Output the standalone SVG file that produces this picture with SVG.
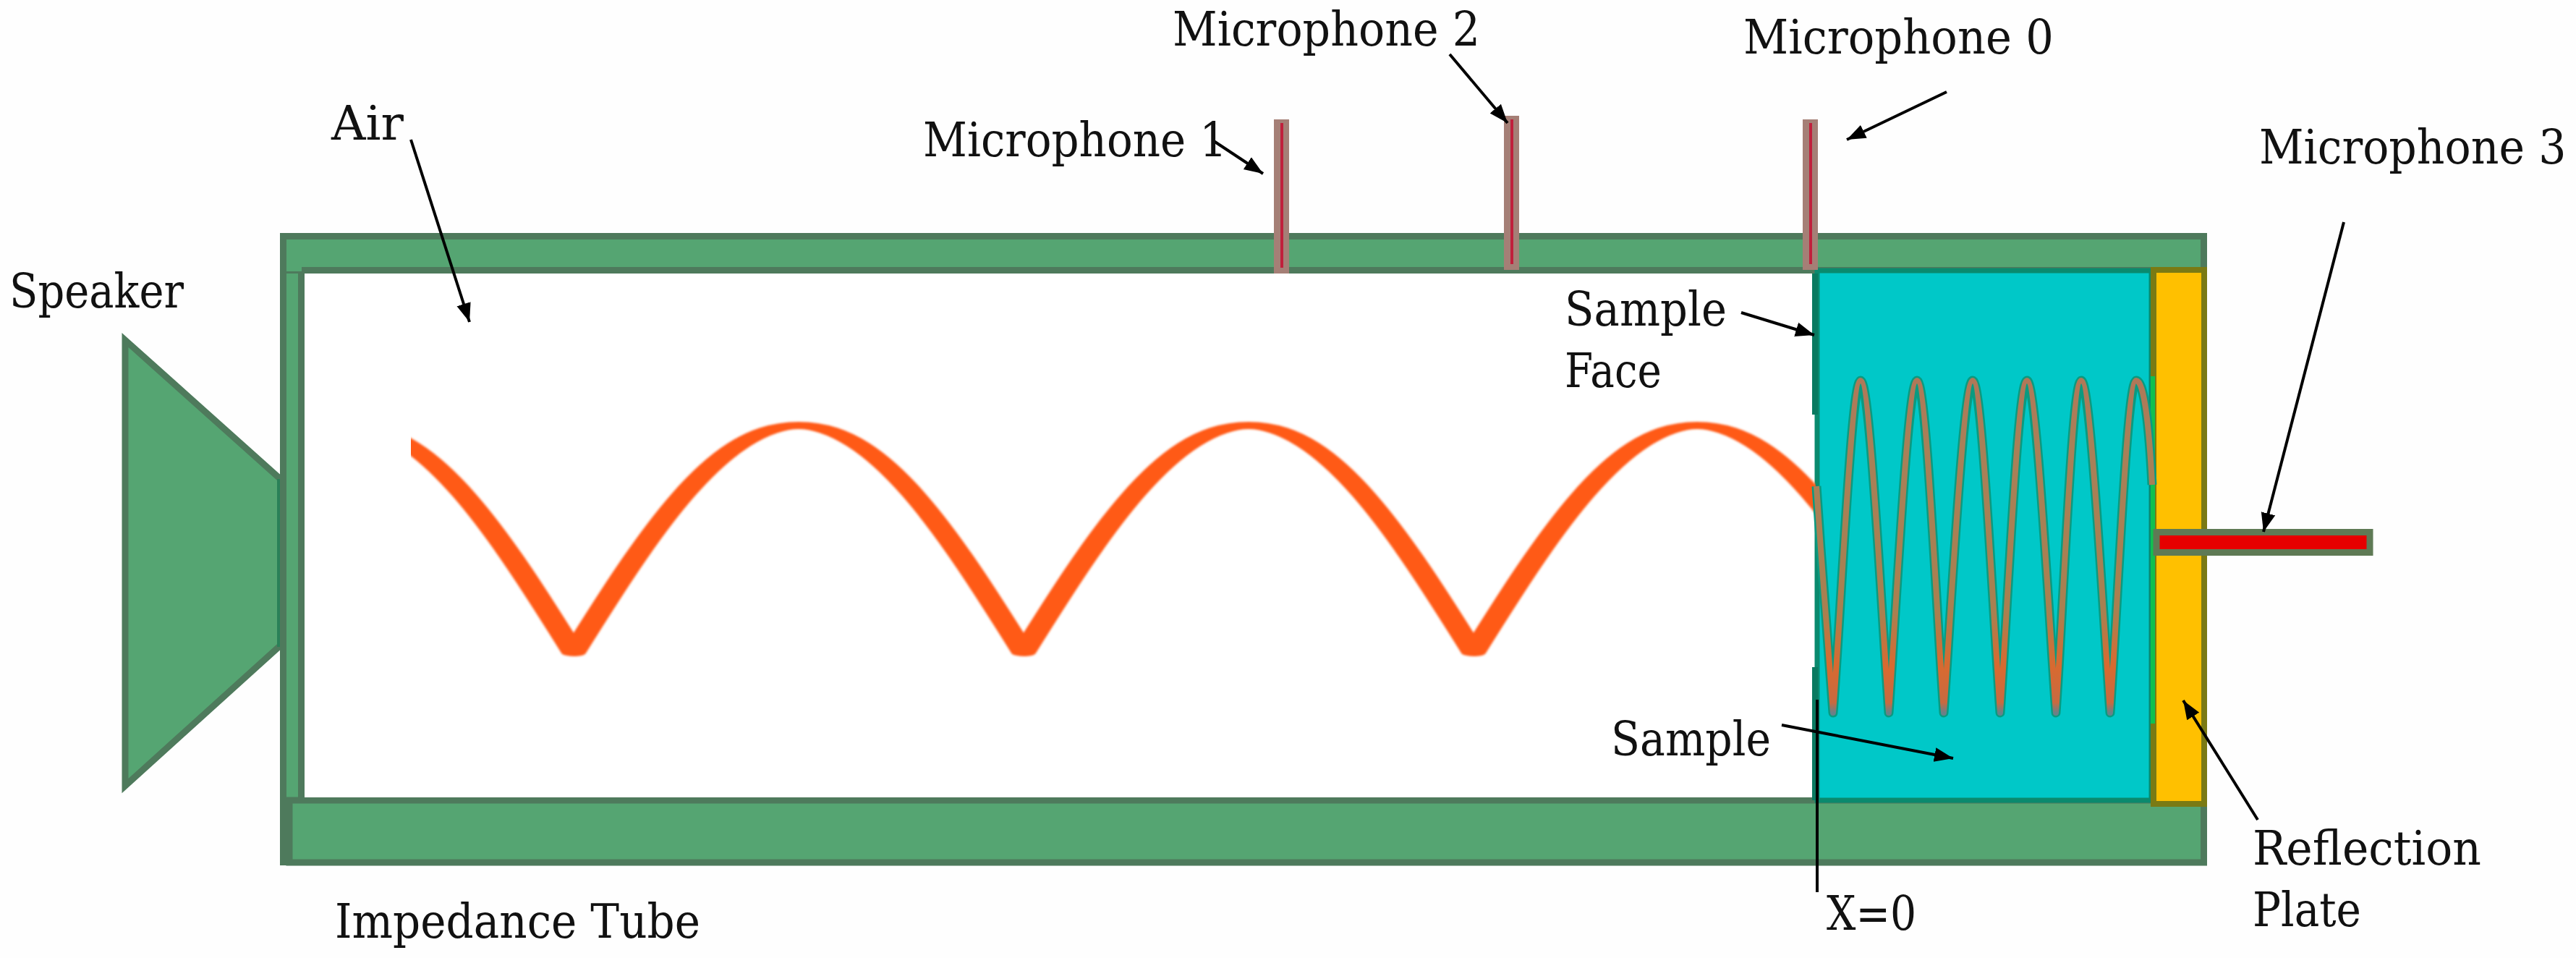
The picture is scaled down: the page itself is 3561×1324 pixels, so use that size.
<svg xmlns="http://www.w3.org/2000/svg" width="3561" height="1324" viewBox="0 0 3561 1324">
<style>
.lbl{font-family:"DejaVu Serif","Liberation Serif",serif;font-size:65px;fill:#111}
.body{fill:#55a572;stroke:#4e7a5c;stroke-width:9}
.mic{fill:#a57f76}
.micc{fill:#c0203c}
.arrow{fill:none;stroke:#000;stroke-width:4;marker-end:url(#head)}
</style>
<defs>
<marker id="head" markerUnits="userSpaceOnUse" markerWidth="28" markerHeight="22" refX="26" refY="11" orient="auto"><path d="M0 1L26 11L0 21Z" fill="#000"/></marker>
<linearGradient id="innerwave" gradientUnits="userSpaceOnUse" x1="0" y1="522" x2="0" y2="985"><stop offset="0" stop-color="#b07858"/><stop offset=".2" stop-color="#a88058"/><stop offset=".7" stop-color="#a88050"/><stop offset=".86" stop-color="#d86a30"/><stop offset=".97" stop-color="#c86a40"/><stop offset="1" stop-color="#6a8088"/></linearGradient>
<filter id="soft" x="-5%" y="-10%" width="110%" height="120%"><feGaussianBlur stdDeviation="1.8"/></filter>
<clipPath id="airclip"><rect x="568" y="560" width="1942" height="370"/></clipPath>
<path id="iw" fill="none" stroke-linejoin="round" d="M2511 672C2518 780 2528 900 2534 985C2546 830 2559 526 2572 526C2585 526 2600 830 2611 985C2622 830 2637 526 2650 526C2663 526 2676 830 2687 985C2698 830 2714 526 2727 526C2740 526 2754 830 2765 985C2776 830 2789 526 2802 526C2815 526 2831 830 2842 985C2853 830 2864 526 2877 526C2890 526 2906 830 2917 985C2928 830 2940 526 2953 526C2964 526 2971 590 2975 670"/>
</defs>
<rect width="3561" height="1324" fill="#fefefe"/>
<g id="speaker"><path class="body" d="M173 470L392 666V888L173 1086Z"/><rect x="383" y="662" width="13" height="232" fill="#2a8058"/></g>
<g id="impedance-tube">
<rect class="body" x="391.500" y="326.500" width="25" height="865"/>
<rect class="body" x="400" y="1106" width="2646.500" height="86"/>
<rect x="421" y="378" width="2090" height="724" fill="#fff"/>
<rect class="body" x="391.500" y="326.500" width="2655" height="47"/>
<rect x="396" y="365" width="21" height="10" fill="#55a572"/>
</g>
<g id="sample">
<rect x="2512" y="374" width="462" height="732" fill="#00c8c8" stroke="#0a8a6e" stroke-width="7"/>
<rect x="2505" y="378" width="8" height="195" fill="#0a7a60"/>
<rect x="2505" y="922" width="8" height="184" fill="#0a7a60"/>
</g>
<g id="reflection-plate">
<rect x="2977" y="373" width="70" height="738" fill="#ffc000" stroke="#7a7a14" stroke-width="8"/>
<rect x="2973" y="520" width="6" height="480" fill="#10c050"/>
</g>
<g id="waves">
<g clip-path="url(#airclip)"><g filter="url(#soft)"><path fill="none" stroke="#ff5a14" stroke-width="10" stroke-linejoin="round" transform="scale(3.4 1)" d="M141.760 588C175 588 203.530 741 233.240 902C262.940 741 291.470 588 324.710 588C357.940 588 386.470 741 416.180 902C445.880 741 474.410 588 507.650 588C540.880 588 569.410 741 599.120 902C628.820 741 657.350 588 690 588C723.240 588 751.760 741 781.470 902"/></g></g>
<use href="#iw" stroke="#0a9a80" stroke-width="13"/>
<use href="#iw" stroke="url(#innerwave)" stroke-width="8"/>
</g>
<g id="microphone-1"><rect class="mic" x="1761" y="165" width="21" height="213"/><rect class="micc" x="1770" y="170" width="4" height="200"/></g>
<g id="microphone-2"><rect class="mic" x="2079" y="160" width="21" height="213"/><rect class="micc" x="2088" y="165" width="4" height="200"/></g>
<g id="microphone-0"><rect class="mic" x="2492" y="165" width="21" height="208"/><rect class="micc" x="2501" y="170" width="4" height="195"/></g>
<g id="microphone-3"><rect x="2981" y="735.500" width="295" height="28" fill="#e60000" stroke="#5f7a55" stroke-width="9"/></g>
<g id="connectors">
<path class="arrow" d="M568 193L649 445"/>
<path class="arrow" d="M1678 195L1746 240"/>
<path class="arrow" d="M2004 75L2084 170"/>
<path class="arrow" d="M2691 127L2553 193"/>
<path class="arrow" d="M2407 432L2508 463"/>
<path class="arrow" d="M2463 1002L2700 1048"/>
<path class="arrow" d="M3240 307L3129 735"/>
<path class="arrow" d="M3121 1133L3018 968"/>
<path d="M2512 967V1233" fill="none" stroke="#000" stroke-width="4"/>
</g>
<g id="labels">
<text class="lbl" x="13" y="425" textLength="241" lengthAdjust="spacingAndGlyphs">Speaker</text>
<text class="lbl" x="458" y="193" textLength="100" lengthAdjust="spacingAndGlyphs">Air</text>
<text class="lbl" x="1276" y="216" textLength="420" lengthAdjust="spacingAndGlyphs">Microphone 1</text>
<text class="lbl" x="1621" y="63" textLength="425" lengthAdjust="spacingAndGlyphs">Microphone 2</text>
<text class="lbl" x="2410" y="74" textLength="429" lengthAdjust="spacingAndGlyphs">Microphone 0</text>
<text class="lbl" transform="translate(3123 226) scale(.925 1)">Microphone 3</text>
<text class="lbl" x="2163" y="450" textLength="224" lengthAdjust="spacingAndGlyphs">Sample</text>
<text class="lbl" x="2163" y="535" textLength="134" lengthAdjust="spacingAndGlyphs">Face</text>
<text class="lbl" x="2227" y="1044" textLength="221" lengthAdjust="spacingAndGlyphs">Sample</text>
<text class="lbl" x="3114" y="1195" textLength="316" lengthAdjust="spacingAndGlyphs">Reflection</text>
<text class="lbl" x="3114" y="1280" textLength="150" lengthAdjust="spacingAndGlyphs">Plate</text>
<text class="lbl" x="2525" y="1285" textLength="124" lengthAdjust="spacingAndGlyphs">X=0</text>
<text class="lbl" x="463" y="1296" textLength="505" lengthAdjust="spacingAndGlyphs">Impedance Tube</text>
</g>
</svg>
